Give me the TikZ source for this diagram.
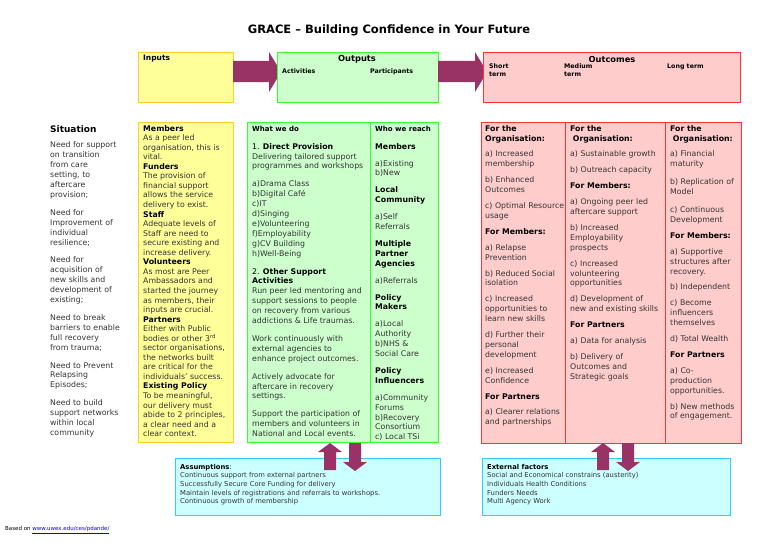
\documentclass[tikz,border=0pt]{standalone}
\usepackage{fontspec}
\setmainfont{DejaVu Sans}
\definecolor{yel}{HTML}{FFFF99}\definecolor{yelb}{HTML}{FFCC33}
\definecolor{grn}{HTML}{CCFFCC}\definecolor{grnb}{HTML}{33FF33}
\definecolor{pnk}{HTML}{FFCCCC}\definecolor{pnkb}{HTML}{FF3333}
\definecolor{cyn}{HTML}{CCFFFF}\definecolor{cynb}{HTML}{33CCFF}
\definecolor{arr}{HTML}{993366}\definecolor{txt}{HTML}{333333}
\begin{document}
\begin{tikzpicture}[x=1pt,y=-1pt,
  txtb/.style={anchor=north west,inner sep=0pt,align=left,font=\fontsize{7.8}{9.9}\selectfont,text=txt},
  hd/.style={anchor=north west,inner sep=0pt,font=\fontsize{7}{8}\selectfont\bfseries},
  arrfill/.style={fill=arr,draw=none}]
\useasboundingbox (0,0) rectangle (768,543);
\node (title) at (389,30) {\fontsize{11.5}{13}\selectfont\bfseries GRACE – Building Confidence in Your Future};
% top row
\draw[yelb,fill=yel] (138,52) rectangle (233,102);
\node[hd,font=\fontsize{7.5}{8}\selectfont\bfseries] (in) at (143,55) {Inputs};
\fill[arrfill] (233,61) -- (269,61) -- (269,52) -- (281,72) -- (269,92) -- (269,82) -- (233,82) -- cycle;
\draw[grnb,fill=grn] (277,52) rectangle (438,102);
\node[font=\fontsize{8.3}{9}\selectfont\bfseries,inner sep=0pt] (out) at (357,59) {Outputs};
\node[hd,font=\fontsize{6.3}{7.5}\selectfont\bfseries] (act) at (282,69) {Activities};
\node[hd,font=\fontsize{6.3}{7.5}\selectfont\bfseries] (par) at (370,69) {Participants};
\fill[arrfill] (438,61) -- (475,61) -- (475,52) -- (487,72) -- (475,92) -- (475,82) -- (438,82) -- cycle;
\draw[pnkb,fill=pnk] (483,52) rectangle (740,102);
\node[font=\fontsize{8.3}{9}\selectfont\bfseries,inner sep=0pt] (oc) at (612,59) {Outcomes};
\node[hd,align=left,font=\fontsize{6.3}{8}\selectfont\bfseries] (st) at (489,64) {Short\\term};
\node[hd,align=left,font=\fontsize{6.3}{8}\selectfont\bfseries] (mt) at (564,64) {Medium\\term};
\node[hd,font=\fontsize{6.3}{8}\selectfont\bfseries] (lt) at (667,64) {Long term};
% situation
\node[txtb,text width=80pt] (sit) at (50,125) {\textbf{\fontsize{9}{10}\selectfont\color{black}Situation}\\[6pt]
Need for support\\on transition\\from care\\setting, to\\aftercare\\provision;\\[8pt]
Need for\\Improvement of\\individual\\resilience;\\[8pt]
Need for\\acquisition of\\new skills and\\development of\\existing;\\[8pt]
Need to break\\barriers to enable\\full recovery\\from trauma;\\[8pt]
Need to Prevent\\Relapsing\\Episodes;\\[8pt]
Need to build\\support networks\\within local\\community};
% inputs
\draw[yelb,fill=yel] (138,122) rectangle (233,442);
\node[txtb,font=\fontsize{7.8}{9.55}\selectfont] (inp) at (143,125) {\textcolor{black}{\textbf{Members}}\\
As a peer led\\organisation, this is\\vital.\\
\textcolor{black}{\textbf{Funders}}\\
The provision of\\financial support\\allows the service\\delivery to exist.\\
\textcolor{black}{\textbf{Staff}}\\
Adequate levels of\\Staff are need to\\secure existing and\\increase delivery.\\
\textcolor{black}{\textbf{Volunteers}}\\
As most are Peer\\Ambassadors and\\started the journey\\as members, their\\inputs are crucial.\\
\textcolor{black}{\textbf{Partners}}\\
Either with Public\\bodies or other 3\smash{\textsuperscript{rd}}\\sector organisations,\\the networks built\\are critical for the\\individuals’ success.\\
\textcolor{black}{\textbf{Existing Policy}}\\
To be meaningful,\\our delivery must\\abide to 2 principles,\\a clear need and a\\clear context.};
% outputs
\draw[grnb,fill=grn] (247,122) rectangle (438,442);
\draw[grnb] (370,122) -- (370,442);
\node[hd] (wwd) at (252,126) {What we do};
\node[hd] (wwr) at (375,126) {Who we reach};
\node[txtb] (act2) at (252,143) {\textcolor{black}{1. \textbf{Direct Provision}}\\
Delivering tailored support\\programmes and workshops\\[8pt]
a)Drama Class\\b)Digital Café\\c)IT\\d)Singing\\e)Volunteering\\f)Employability\\g)CV Building\\h)Well-Being\\[8pt]
\textcolor{black}{2. \textbf{Other Support}}\\\textcolor{black}{\textbf{Activities}}\\
Run peer led mentoring and\\support sessions to people\\on recovery from various\\addictions \& Life traumas.\\[8pt]
Work continuously with\\external agencies to\\enhance project outcomes.\\[8pt]
Actively advocate for\\aftercare in recovery\\settings.\\[8pt]
Support the participation of\\members and volunteers in\\National and Local events.};
\node[txtb] (who) at (375,143) {\textcolor{black}{\textbf{Members}}\\[7pt]
a)Existing\\b)New\\[7pt]
\textcolor{black}{\textbf{Local}}\\\textcolor{black}{\textbf{Community}}\\[7pt]
a)Self\\Referrals\\[7pt]
\textcolor{black}{\textbf{Multiple}}\\\textcolor{black}{\textbf{Partner}}\\\textcolor{black}{\textbf{Agencies}}\\[7pt]
a)Referrals\\[7pt]
\textcolor{black}{\textbf{Policy}}\\\textcolor{black}{\textbf{Makers}}\\[7pt]
a)Local\\Authority\\b)NHS \&\\Social Care\\[7pt]
\textcolor{black}{\textbf{Policy}}\\\textcolor{black}{\textbf{Influencers}}\\[7pt]
a)Community\\Forums\\b)Recovery\\Consortium\\c) Local TSi};
% outcomes
\draw[pnkb,fill=pnk] (481,122) rectangle (741,443);
\draw[pnkb] (565,122) -- (565,443);
\draw[pnkb] (665,122) -- (665,443);
\node[txtb] (o1) at (485,125) {\textcolor{black}{\textbf{For the}}\\\textcolor{black}{\textbf{Organisation:}}\\[6pt]
a) Increased\\membership\\[6pt]
b) Enhanced\\Outcomes\\[6pt]
c) Optimal Resource\\usage\\[6pt]
\textcolor{black}{\textbf{For Members:}}\\[6pt]
a) Relapse\\Prevention\\[6pt]
b) Reduced Social\\isolation\\[6pt]
c) Increased\\opportunities to\\learn new skills\\[6pt]
d) Further their\\personal\\development\\[6pt]
e) Increased\\Confidence\\[6pt]
\textcolor{black}{\textbf{For Partners}}\\[6pt]
a) Clearer relations\\and partnerships};
\node[txtb] (o2) at (570,125) {\textcolor{black}{\textbf{For the}}\\\textcolor{black}{\textbf{\ Organisation:}}\\[6pt]
a) Sustainable growth\\[6pt]
b) Outreach capacity\\[6pt]
\textcolor{black}{\textbf{For Members:}}\\[6pt]
a) Ongoing peer led\\aftercare support\\[6pt]
b) Increased\\Employability\\prospects\\[6pt]
c) Increased\\volunteering\\opportunities\\[6pt]
d) Development of\\new and existing skills\\[6pt]
\textcolor{black}{\textbf{For Partners}}\\[6pt]
a) Data for analysis\\[6pt]
b) Delivery of\\Outcomes and\\Strategic goals};
\node[txtb] (o3) at (670,125) {\textcolor{black}{\textbf{For the}}\\\textcolor{black}{\textbf{\ Organisation:}}\\[6pt]
a) Financial\\maturity\\[8pt]
b) Replication of\\Model\\[8pt]
c) Continuous\\Development\\[6pt]
\textcolor{black}{\textbf{For Members:}}\\[6pt]
a) Supportive\\structures after\\recovery.\\[6pt]
b) Independent\\[6pt]
c) Become\\influencers\\themselves\\[6pt]
d) Total Wealth\\[6pt]
\textcolor{black}{\textbf{For Partners}}\\[6pt]
a) Co-\\production\\opportunities.\\[6pt]
b) New methods\\of engagement.};
% bottom boxes
\draw[cynb,fill=cyn] (175,458) rectangle (440,515);
\node[txtb,font=\fontsize{6.8}{8.6}\selectfont] (ass) at (180,464) {\textcolor{black}{\textbf{Assumptions}:}\\
Continuous support from external partners\\Successfully Secure Core Funding for delivery\\Maintain levels of registrations and referrals to workshops.\\Continuous growth of membership};
\draw[cynb,fill=cyn] (482,458) rectangle (730,515);
\node[txtb,font=\fontsize{6.8}{8.6}\selectfont] (ext) at (487,464) {\textcolor{black}{\textbf{External factors}}\\
Social and Economical constrains (austerity)\\Individuals Health Conditions\\Funders Needs\\Multi Agency Work};
\foreach \cx in {330,603}{
  \fill[arrfill] (\cx-6,470) -- (\cx-6,452) -- (\cx-12,452) -- (\cx,443) -- (\cx+12,452) -- (\cx+6,452) -- (\cx+6,470) -- cycle;
  \fill[arrfill] (\cx+19,443) -- (\cx+31,443) -- (\cx+31,462) -- (\cx+37,462) -- (\cx+25,471) -- (\cx+13,462) -- (\cx+19,462) -- cycle;
}
\node[anchor=west,inner sep=0pt,font=\fontsize{5.5}{6}\selectfont] (src) at (5,530) {Based on \textcolor{blue}{\underline{www.uwex.edu/ces/pdande/}}};
\end{tikzpicture}
\end{document}
